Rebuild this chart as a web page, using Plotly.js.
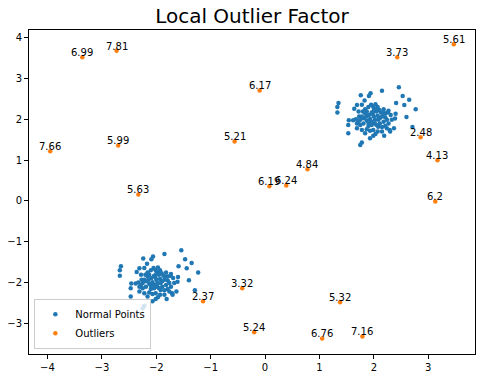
<!DOCTYPE html>
<html>
<head>
<meta charset="utf-8">
<script src="https://cdn.plot.ly/plotly-3.0.1.min.js"></script>
<style>html,body{margin:0;padding:0;background:#fff;}#chart{width:486px;height:378px;}</style>
</head>
<body>
<div id="chart"></div>
<script>
// Upper cluster of normal points
const normalUpperX = [2.46,2.15,1.94,1.91,1.76,2.53,2.65,1.83,2.41,1.35,1.69,1.78,2.56,1.95,2.03,1.33,1.64,2.07,2.77,1.33,1.80,2.27,2.26,2.40,2.39,2.60,1.62,1.54,1.53,2.71,2.37,2.29,1.53,2.03,1.99,1.93,2.19,1.78,1.75,1.99,2.04,2.10,2.05,2.13,1.96,1.91,1.86,1.81,1.75,1.72,1.87,1.93,2.00,2.07,2.15,2.21,2.24,2.18,2.11,2.02,1.96,1.90,1.81,1.75,1.69,2.08,2.15,2.21,2.27,1.87,1.93,1.99,2.07,2.15,1.73,1.67,1.84,1.90,2.18,2.21,2.31,2.33,2.24,1.78,1.69,1.98,2.02,2.08,1.96,2.05,1.84,1.78,2.11,1.90,2.30,1.84,1.72,1.87,2.18,2.00];
const normalUpperY = [2.79,2.70,2.64,2.57,2.59,2.57,2.48,2.46,2.40,2.40,2.35,2.36,2.35,2.36,2.37,2.30,2.26,2.30,2.25,2.17,2.19,2.21,2.17,2.14,2.02,2.06,1.98,1.98,1.86,1.81,1.78,1.74,1.66,1.64,1.60,1.54,1.60,1.43,1.37,2.30,2.25,2.23,2.19,2.17,2.17,2.11,2.07,2.03,1.99,1.94,1.97,2.01,2.07,2.09,2.07,2.05,1.99,1.94,1.90,1.90,1.86,1.84,1.90,1.86,1.90,1.82,1.81,1.84,1.90,1.76,1.72,1.74,1.70,1.70,2.07,2.00,2.25,2.30,2.25,2.15,2.11,1.99,1.78,1.74,1.78,2.13,1.99,1.99,1.94,1.86,2.15,2.07,2.03,1.92,1.70,1.66,2.19,2.19,2.15,2.21];
// Lower cluster of normal points
const normalLowerX = [-1.54,-1.85,-2.06,-2.09,-2.24,-1.47,-1.35,-2.17,-1.59,-2.65,-2.31,-2.22,-1.44,-2.05,-1.97,-2.67,-2.36,-1.93,-1.23,-2.67,-2.20,-1.73,-1.74,-1.60,-1.61,-1.40,-2.38,-2.46,-2.47,-1.29,-1.63,-1.71,-2.47,-1.97,-2.01,-2.07,-1.81,-2.22,-2.25,-2.01,-1.96,-1.90,-1.95,-1.87,-2.04,-2.09,-2.14,-2.19,-2.25,-2.28,-2.13,-2.07,-2.00,-1.93,-1.85,-1.79,-1.76,-1.82,-1.89,-1.98,-2.04,-2.10,-2.19,-2.25,-2.31,-1.92,-1.85,-1.79,-1.73,-2.13,-2.07,-2.01,-1.93,-1.85,-2.27,-2.33,-2.16,-2.10,-1.82,-1.79,-1.69,-1.67,-1.76,-2.22,-2.31,-2.02,-1.98,-1.92,-2.04,-1.95,-2.16,-2.22,-1.89,-2.10,-1.70,-2.16,-2.28,-2.13,-1.82,-2.00];
const normalLowerY = [-1.21,-1.30,-1.36,-1.43,-1.41,-1.43,-1.52,-1.54,-1.60,-1.60,-1.65,-1.64,-1.65,-1.64,-1.63,-1.70,-1.74,-1.70,-1.75,-1.83,-1.81,-1.79,-1.83,-1.86,-1.98,-1.94,-2.02,-2.02,-2.14,-2.19,-2.22,-2.26,-2.34,-2.36,-2.40,-2.46,-2.40,-2.57,-2.63,-1.70,-1.75,-1.77,-1.81,-1.83,-1.83,-1.89,-1.93,-1.97,-2.01,-2.06,-2.03,-1.99,-1.93,-1.91,-1.93,-1.95,-2.01,-2.06,-2.10,-2.10,-2.14,-2.16,-2.10,-2.14,-2.10,-2.18,-2.19,-2.16,-2.10,-2.24,-2.28,-2.26,-2.30,-2.30,-1.93,-2.00,-1.75,-1.70,-1.75,-1.85,-1.89,-2.01,-2.22,-2.26,-2.22,-1.87,-2.01,-2.01,-2.06,-2.14,-1.85,-1.93,-1.97,-2.08,-2.30,-2.34,-1.81,-1.81,-1.85,-1.79];
// Outliers and their LOF scores
const outlierX = [-3.36,-2.73,-3.95,-2.70,-2.33,-0.56,-0.10,3.47,2.43,2.86,3.17,0.78,0.08,0.39,3.13,-1.14,-0.42,1.38,-0.20,1.05,1.79];
const outlierY = [3.52,3.68,1.22,1.36,0.16,1.46,2.71,3.84,3.52,1.56,1.00,0.78,0.36,0.38,-0.01,-2.46,-2.14,-2.48,-3.22,-3.37,-3.32];
const outlierScore = ["6.99","7.81","7.66","5.99","5.63","5.21","6.17","5.61","3.73","2.48","4.13","4.84","6.19","6.24","6.2","2.37","3.32","5.32","5.24","6.76","7.16"];

const normalX = normalUpperX.concat(normalLowerX);
const normalY = normalUpperY.concat(normalLowerY);

const font = "DejaVu Sans, sans-serif";
const traces = [
  {x: normalX, y: normalY, mode: "markers", type: "scatter", name: "Normal Points",
   marker: {color: "#1f77b4", size: 4.5}},
  {x: outlierX, y: outlierY, mode: "markers", type: "scatter", name: "Outliers",
   marker: {color: "#ff7f0e", size: 4.5}}
];
const annotations = outlierScore.map((s, i) => ({
  x: outlierX[i], y: outlierY[i], xref: "x", yref: "y", text: s, showarrow: false,
  xanchor: "center", yanchor: "bottom", yshift: -3,
  font: {family: font, size: 10, color: "#000"}
}));
const axisCommon = {
  showgrid: false, zeroline: false, showline: true, linecolor: "#000", linewidth: 1,
  mirror: true, ticks: "outside", ticklen: 4, tickwidth: 1, tickcolor: "#000",
  tickfont: {family: font, size: 10, color: "#000"}
};
const layout = {
  width: 486, height: 378,
  margin: {l: 29, r: 11, t: 30, b: 24},
  paper_bgcolor: "#fff", plot_bgcolor: "#fff",
  title: {text: "Local Outlier Factor", font: {family: font, size: 20, color: "#000"},
          x: 0.5, xref: "paper", y: 1, yref: "paper", yanchor: "bottom", pad: {b: 7}},
  xaxis: Object.assign({range: [-4.34, 3.86], tickvals: [-4,-3,-2,-1,0,1,2,3]}, axisCommon),
  yaxis: Object.assign({range: [-3.75, 4.19], tickvals: [-3,-2,-1,0,1,2,3,4]}, axisCommon),
  showlegend: true,
  legend: {x: 0.012, y: 0.016, xanchor: "left", yanchor: "bottom",
           bordercolor: "#cccccc", borderwidth: 1, bgcolor: "rgba(255,255,255,0.8)",
           font: {family: font, size: 10, color: "#000"}, itemwidth: 30, tracegroupgap: 0},
  annotations: annotations
};
Plotly.newPlot("chart", traces, layout, {displayModeBar: false, staticPlot: true});
</script>
</body>
</html>
